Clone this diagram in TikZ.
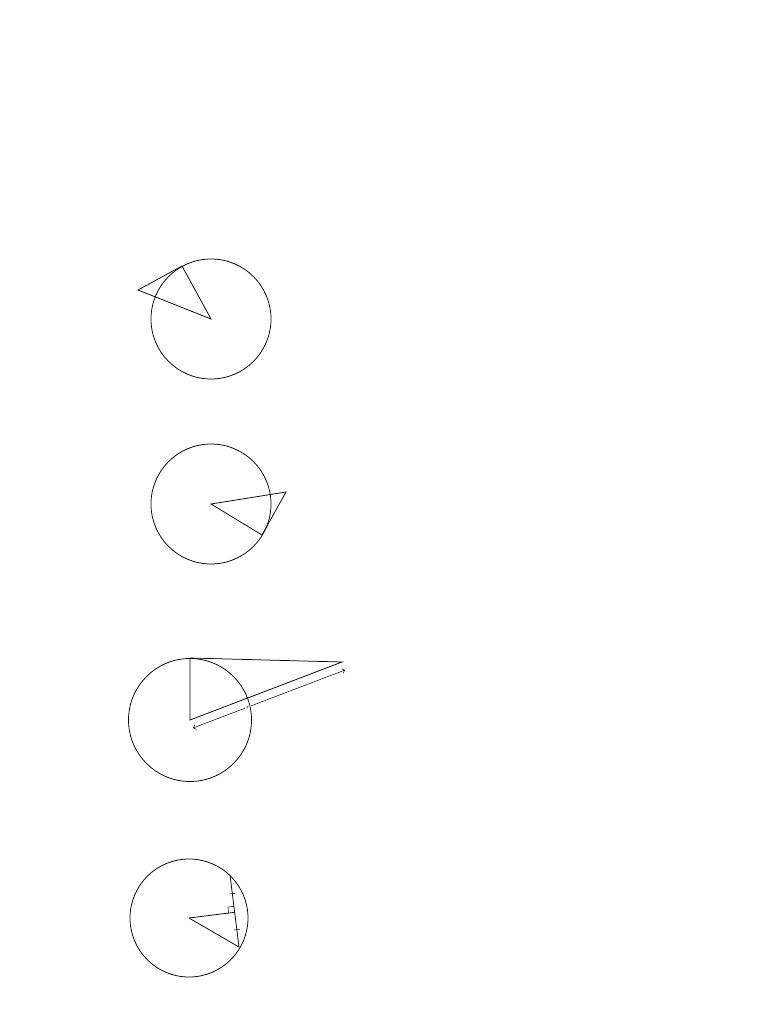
\documentclass[tikz,border=0pt]{standalone}
\usetikzlibrary{positioning,calc,arrows.meta}

\begin{document}
\begin{tikzpicture}[x=1pt, y=-1pt, line width=0.75pt,
    rad/.style={draw, circle, minimum size=120pt, inner sep=0pt},
    dimline/.style={line width=0.5pt, {Straight Barb[length=2.5pt]}-{Straight Barb[length=2.5pt]}},
    tick/.style={line width=0.5pt}]
        \useasboundingbox (0,0) rectangle (768,1024);

        % First circle
        \node[rad] (C1) at (211,319) {};
        \coordinate (A1) at (182,266);
        \coordinate (B1) at (138,290);
        \draw (C1.center) -- (A1) -- (B1) -- cycle;

        % Second circle
        \node[rad] (C2) at (211,504) {};
        \coordinate (A2) at (262,535);
        \coordinate (B2) at (286,492);
        \draw (C2.center) -- (A2) -- (B2) -- cycle;

        % Third circle, with the measured side
        \coordinate (O3) at (190,720);
        \coordinate (A3) at (190,658);
        \coordinate (B3) at (342,662);
        \coordinate (D3) at ($(O3)+(3,8)$);
        \coordinate (E3) at ($(B3)+(3,8)$);
        \draw[dimline] (D3) -- node[pos=0.36, fill=white, inner sep=1pt, font=\fontsize{5}{5}\selectfont] (L3) {$x$} (E3);
        \node[rad, minimum size=123pt] (C3) at (O3) {};
        \draw (C3.center) -- (A3) -- (B3) -- cycle;

        % Fourth circle, chord cut in half
        \node[rad, minimum size=118pt] (C4) at (189,918) {};
        \coordinate (A4) at (230,875);
        \coordinate (B4) at (239,947);
        \coordinate (F4) at ($(A4)!(C4.center)!(B4)$);
        \draw (C4.center) -- (B4) -- (A4);
        \draw (C4.center) -- (F4);
        \draw[tick] ($(F4)!6pt!(A4)$) -- ($(F4)!6pt!(A4)!6pt!90:(A4)$) -- ($(F4)!6pt!(C4.center)$);
        \coordinate (M1) at ($(A4)!0.5!(F4)$);
        \coordinate (M2) at ($(B4)!0.5!(F4)$);
        \draw[tick] ($(M1)!3pt!90:(F4)$) -- ($(M1)!3pt!-90:(F4)$);
        \draw[tick] ($(M2)!3pt!90:(F4)$) -- ($(M2)!3pt!-90:(F4)$);
\end{tikzpicture}
\end{document}
